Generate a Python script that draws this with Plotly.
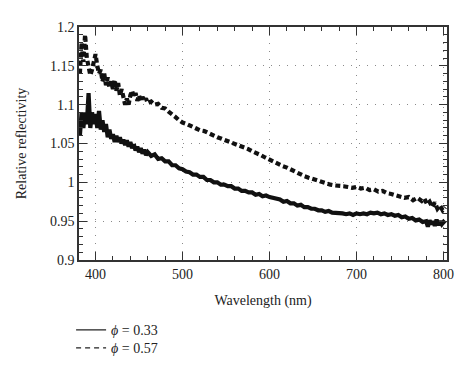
import plotly.graph_objects as go

# phi = 0.33 (solid, lower curve)
wl_033 = [382, 384, 386, 388, 390, 392, 394, 396, 398, 400, 402, 404, 406, 408, 410, 412, 414, 416, 418,
          420, 422, 424, 426, 428, 430, 432, 434, 436, 438, 440, 442, 444, 446, 448, 450, 452, 454, 456, 458, 460,
          464, 468, 472, 476, 480, 484, 488, 492, 496, 500, 504, 508, 512, 516, 520, 524, 528, 532, 536, 540,
          544, 548, 552, 556, 560, 564, 568, 572, 576, 580, 584, 588, 592, 596, 600, 604, 608, 612, 616, 620,
          624, 628, 632, 636, 640, 644, 648, 652, 656, 660, 664, 668, 672, 676, 680, 684, 688, 692, 696, 700,
          704, 708, 712, 716, 720, 724, 728, 732, 736, 740, 744, 748, 752, 756, 760, 764, 768, 772, 776, 780,
          782, 784, 786, 788, 790, 792, 794, 796, 798, 800, 802]
r_033 = [1.06, 1.09, 1.07, 1.09, 1.075, 1.115, 1.07, 1.09, 1.075, 1.088, 1.07, 1.092, 1.068, 1.08, 1.065, 1.075, 1.058, 1.068, 1.056,
         1.062, 1.052, 1.06, 1.052, 1.058, 1.05, 1.055, 1.048, 1.054, 1.046, 1.052, 1.044, 1.049, 1.041, 1.046, 1.039, 1.044, 1.037, 1.042, 1.035, 1.039,
         1.034, 1.036, 1.03, 1.031, 1.027, 1.027, 1.022, 1.022, 1.018, 1.017, 1.014, 1.013, 1.01, 1.01, 1.007, 1.007, 1.003, 1.003, 1.0, 1.0,
         0.997, 0.997, 0.995, 0.995, 0.992, 0.992, 0.989, 0.989, 0.987, 0.987, 0.984, 0.985, 0.982, 0.983, 0.981, 0.98, 0.978, 0.978, 0.975, 0.976,
         0.973, 0.973, 0.97, 0.971, 0.968, 0.968, 0.966, 0.966, 0.964, 0.964, 0.962, 0.963, 0.961, 0.961, 0.96, 0.96, 0.959, 0.96, 0.958, 0.96,
         0.959, 0.96, 0.959, 0.961, 0.96, 0.961, 0.959, 0.96, 0.958, 0.959, 0.957, 0.958, 0.955, 0.956, 0.953, 0.954, 0.951, 0.952, 0.949, 0.95,
         0.943, 0.951, 0.946, 0.95, 0.944, 0.952, 0.945, 0.95, 0.946, 0.949, 0.947]

# phi = 0.57 (dashed, upper curve)
wl_057 = [382, 384, 386, 388, 390, 392, 394, 396, 398, 400, 402, 404, 406, 408, 410, 412, 414, 416, 418,
          420, 422, 424, 426, 428, 430, 432, 434, 436, 438, 440, 442, 444, 446, 448, 450, 452, 454, 456, 458, 460,
          464, 468, 472, 476, 480, 484, 488, 492, 496, 500, 505, 510, 515, 520, 525, 530, 535, 540, 545, 550,
          555, 560, 565, 570, 575, 580, 585, 590, 595, 600, 605, 610, 615, 620, 625, 630, 635, 640, 645, 650,
          655, 660, 665, 670, 675, 680, 685, 690, 695, 700, 705, 710, 715, 720, 725, 730, 735, 740, 745, 750,
          755, 760, 765, 770, 775, 778, 781, 784, 787, 790, 793, 796, 799, 802]
r_057 = [1.14, 1.18, 1.155, 1.19, 1.16, 1.15, 1.138, 1.145, 1.155, 1.165, 1.15, 1.14, 1.145, 1.13, 1.14, 1.125, 1.135, 1.122, 1.13,
         1.12, 1.132, 1.118, 1.128, 1.112, 1.12, 1.106, 1.1, 1.108, 1.1, 1.112, 1.118, 1.11, 1.115, 1.105, 1.112, 1.104, 1.11, 1.105, 1.108, 1.102,
         1.104, 1.1, 1.101, 1.096, 1.095, 1.091, 1.088, 1.084, 1.08, 1.077, 1.075, 1.072, 1.07, 1.067, 1.066, 1.063, 1.061, 1.058, 1.056, 1.054,
         1.052, 1.05, 1.048, 1.045, 1.043, 1.04, 1.038, 1.035, 1.032, 1.029, 1.027, 1.024, 1.021, 1.019, 1.016, 1.013, 1.011, 1.008, 1.006, 1.004,
         1.002, 1.0, 0.999, 0.997, 0.996, 0.996, 0.995, 0.994, 0.993, 0.994, 0.992, 0.993, 0.99, 0.991, 0.988, 0.989, 0.986, 0.985, 0.983, 0.982,
         0.98, 0.981, 0.977, 0.98, 0.976, 0.979, 0.972, 0.975, 0.968, 0.974, 0.966, 0.97, 0.964, 0.968]

x_ticks = [400, 500, 600, 700, 800]
y_ticks = [0.9, 0.95, 1.0, 1.05, 1.1, 1.15, 1.2]
y_tick_labels = ["0.9", "0.95", "1", "1.05", "1.1", "1.15", "1.2"]
series_names = ["<i>ϕ</i> = 0.33", "<i>ϕ</i> = 0.57"]

FONT = "Liberation Serif"
AX = "#333333"
INK = "#111111"

fig = go.Figure()
fig.add_trace(go.Scatter(x=wl_033, y=r_033, mode="lines", name=series_names[0], showlegend=False,
                         line=dict(color=INK, width=4.2)))
fig.add_trace(go.Scatter(x=wl_057, y=r_057, mode="lines", name=series_names[1], showlegend=False,
                         line=dict(color=INK, width=4.2, dash="5px,3px")))
# legend entries with thin line samples
fig.add_trace(go.Scatter(x=[None], y=[None], mode="lines", name=series_names[0], legend="legend",
                         line=dict(color="#222", width=1.3)))
fig.add_trace(go.Scatter(x=[None], y=[None], mode="lines", name=series_names[1], legend="legend2",
                         line=dict(color="#222", width=1.3, dash="5px,4px")))

axis_common = dict(
    showline=True, linecolor=AX, linewidth=1.5, mirror="ticks",
    ticks="inside", ticklen=8, tickwidth=1.2, tickcolor=AX,
    showgrid=True, gridcolor="#8a8a8a", gridwidth=1, griddash="1px,7px",
    zeroline=False, tickfont=dict(family=FONT, size=14, color="#222"),
)

fig.update_xaxes(range=[381, 804], tickvals=x_ticks,
                 minor=dict(dtick=20, tick0=400, ticks="inside", ticklen=4, tickcolor=AX, showgrid=False),
                 title=dict(text="Wavelength (nm)", font=dict(family=FONT, size=14, color="#222"), standoff=15),
                 **axis_common)
fig.update_yaxes(range=[0.9, 1.2], tickvals=y_ticks, ticktext=y_tick_labels,
                 minor=dict(dtick=0.01, tick0=0.9, ticks="inside", ticklen=4, tickcolor=AX, showgrid=False),
                 title=dict(text="Relative reflectivity", font=dict(family=FONT, size=14, color="#222"), standoff=20),
                 **axis_common)

legend_style = dict(xanchor="left", yanchor="top",
                    font=dict(family=FONT, size=14, color="#222"),
                    bgcolor="rgba(0,0,0,0)", itemwidth=30)

fig.update_layout(
    width=466, height=372,
    margin=dict(l=67, r=27, t=15, b=120),
    plot_bgcolor="white", paper_bgcolor="white",
    showlegend=True,
    legend=dict(x=-0.0215, y=-0.233, **legend_style),
    legend2=dict(x=-0.0215, y=-0.31, **legend_style),
    font=dict(family=FONT),
)

fig.write_html("out.html")
